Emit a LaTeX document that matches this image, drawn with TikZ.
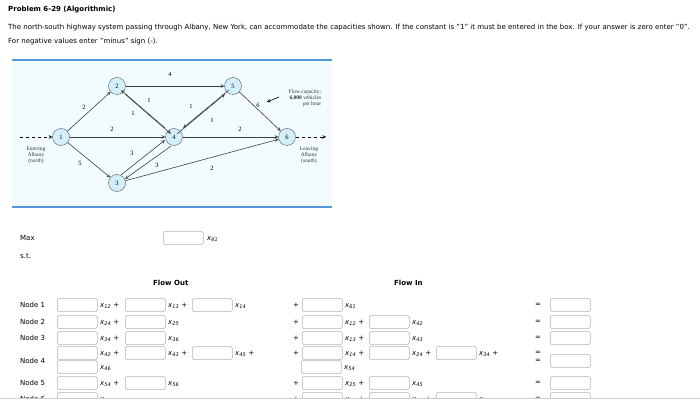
\documentclass[tikz,border=0pt]{standalone}
\usepackage{fontspec}
\setmainfont{DejaVu Sans}
\newfontfamily\serif{Liberation Serif}
\begin{document}
\begin{tikzpicture}[x=1pt,y=-1pt,
  txt/.style={anchor=west,inner sep=0pt,font=\fontsize{7}{8}\selectfont},
  bld/.style={txt,font=\fontsize{7}{8}\selectfont\bfseries},
  ibox/.style={draw=gray!60,rounded corners=1.5pt,minimum width=40pt,minimum height=13pt,inner sep=0pt,anchor=west,line width=0.5pt},
  vr/.style={anchor=west,inner sep=0pt,font=\fontsize{7}{8}\selectfont\itshape},
  fnode/.style={circle,draw=gray!70!black,fill=cyan!18,minimum size=17pt,inner sep=0pt,font=\serif\fontsize{6.5}{7}\selectfont},
  el/.style={font=\serif\fontsize{6.5}{7}\selectfont,inner sep=0pt},
  ed/.style={draw=black!75,line width=0.6pt,-stealth},
  stxt/.style={font=\serif\fontsize{5.5}{5.8}\selectfont,align=center,inner sep=0pt,text=black!80}]
\useasboundingbox (0,0) rectangle (700,403);
\fill[white] (0,0) rectangle (700,403);
\node[bld] (title) at (8,10) {Problem 6-29 (Algorithmic)};
\node[txt] (l1) at (8,28) {The north-south highway system passing through Albany, New York, can accommodate the capacities shown. If the constant is "1" it must be entered in the box. If your answer is zero enter "0".};
\node[txt] (l2) at (8,42) {For negative values enter "minus" sign (-).};
% diagram
\fill[cyan!5] (12,60) rectangle (332,207);
\draw[cyan!60!blue!70,line width=1.6pt] (12,60) -- (332,60) (12,207) -- (332,207);
\node[fnode] (n1) at (61,137) {1};
\node[fnode] (n2) at (117,86) {2};
\node[fnode] (n3) at (117,183) {3};
\node[fnode] (n4) at (174,137) {4};
\node[fnode] (n5) at (233,86) {5};
\node[fnode] (n6) at (287,137) {6};
\draw[ed] (n1) -- (n2);
\draw[ed] (n1) -- (n4);
\draw[ed] (n1) -- (n3);
\draw[ed] (n2) -- (n5);
\draw[ed] ([xshift=2pt,yshift=-2pt]n2.south east) -- ([xshift=3pt,yshift=-3pt]n4.north west);
\draw[ed] ([xshift=-3pt,yshift=3pt]n4.north west) -- ([xshift=-2pt,yshift=2pt]n2.south east);
\draw[ed] ([xshift=-3pt,yshift=-3pt]n4.north east) -- ([xshift=-2pt,yshift=-2pt]n5.south west);
\draw[ed] ([xshift=2pt,yshift=2pt]n5.south west) -- ([xshift=3pt,yshift=3pt]n4.north east);
\draw[ed] ([xshift=-2pt,yshift=2pt]n3.north east) -- ([xshift=-3pt,yshift=3pt]n4.south west);
\draw[ed] ([xshift=3pt,yshift=-3pt]n4.south west) -- ([xshift=2pt,yshift=-2pt]n3.north east);
\draw[ed] (n4) -- (n6);
\draw[ed] (n5) -- (n6);
\draw[ed] (n3) -- (n6);
\node[el] (e12) at (84,107) {2};
\node[el] (e14) at (112,129) {2};
\node[el] (e13) at (80,163) {5};
\node[el] (e25) at (170,74) {4};
\node[el] (e24) at (149,100) {1};
\node[el] (e42) at (133,113) {1};
\node[el] (e45) at (191,106) {1};
\node[el] (e54) at (212,120) {1};
\node[el] (e34) at (132,153) {3};
\node[el] (e43) at (157,165) {3};
\node[el] (e46) at (240,129) {2};
\node[el] (e36) at (212,168) {2};
\node[el,font=\serif\itshape\fontsize{6.5}{7}\selectfont] (e56) at (258,105) {6};
\coordinate (a0) at (20,137);
\draw[-stealth,dashed,line width=0.6pt] (a0) -- (n1.west);
\draw[-stealth,dashed,line width=0.6pt] (n6.east) -- (326,137);
\node[stxt] (ent) at (36,155) {Entering\\Albany\\(north)};
\node[stxt] (lea) at (309,155) {Leaving\\Albany\\(south)};
\node[stxt,align=right] (cap) at (305,98) {Flow capacity:\\\textbf{6,000} vehicles\\per hour};
\coordinate (capt) at (279,97);
\coordinate (caph) at (267,102);
\draw[-stealth,line width=0.6pt] (capt) -- (caph);
% LP
\node[txt] (max) at (20,238) {Max};
\node[txt] (st) at (20,256) {s.t.};
\node[ibox] (bmax) at (163,238) {};
\node[vr] (vmax) at (207,239) {x\textsubscript{61}};
\node[bld] (fo) at (153,283) {Flow Out};
\node[bld] (fi) at (394,283) {Flow In};
\newcommand\rowlab[3]{\node[txt] (#1) at (20,#2) {#3};}
\rowlab{r1}{305}{Node 1}\rowlab{r2}{322}{Node 2}\rowlab{r3}{338}{Node 3}
\rowlab{r4}{361}{Node 4}\rowlab{r5}{383}{Node 5}\rowlab{r6}{399}{Node 6}
\newcommand\bx[4]{\node[ibox] (#1) at (#2,#3) {};\node[vr] at (#2+43,#3+1) {#4};}
% flow out
\bx{o11}{57}{305}{x\textsubscript{12} +}\bx{o12}{125}{305}{x\textsubscript{13} +}\bx{o13}{192}{305}{x\textsubscript{14}}
\bx{o21}{57}{322}{x\textsubscript{24} +}\bx{o22}{125}{322}{x\textsubscript{25}}
\bx{o31}{57}{338}{x\textsubscript{34} +}\bx{o32}{125}{338}{x\textsubscript{36}}
\bx{o41}{57}{353}{x\textsubscript{42} +}\bx{o42}{125}{353}{x\textsubscript{43} +}\bx{o43}{192}{353}{x\textsubscript{45} +}
\bx{o44}{57}{367}{x\textsubscript{46}}
\bx{o51}{57}{383}{x\textsubscript{54} +}\bx{o52}{125}{383}{x\textsubscript{56}}
\bx{o61}{57}{399}{x\textsubscript{61}}
% flow in
\foreach \y in {305,322,338,353,383,399} {\node[txt] at (293,\y) {+};\node[txt] at (535,\y) {=};}
\node[txt] at (535,361) {=};
\bx{i11}{302}{305}{x\textsubscript{61}}
\bx{i21}{302}{322}{x\textsubscript{12} +}\bx{i22}{369}{322}{x\textsubscript{42}}
\bx{i31}{302}{338}{x\textsubscript{13} +}\bx{i32}{369}{338}{x\textsubscript{43}}
\bx{i41}{302}{353}{x\textsubscript{14} +}\bx{i42}{369}{353}{x\textsubscript{24} +}\bx{i43}{436}{353}{x\textsubscript{34} +}
\bx{i44}{301}{367}{x\textsubscript{54}}
\bx{i51}{302}{383}{x\textsubscript{25} +}\bx{i52}{369}{383}{x\textsubscript{45}}
\bx{i61}{302}{399}{x\textsubscript{36} +}\bx{i62}{369}{399}{x\textsubscript{46} +}\bx{i63}{436}{399}{x\textsubscript{56}}
\foreach \y in {305,322,338,361,383,399} {\node[ibox] at (550,\y) {};}
\fill[white] (0,398) rectangle (700,403);
\draw[gray!40] (0,398) -- (700,398);
\end{tikzpicture}
\end{document}
